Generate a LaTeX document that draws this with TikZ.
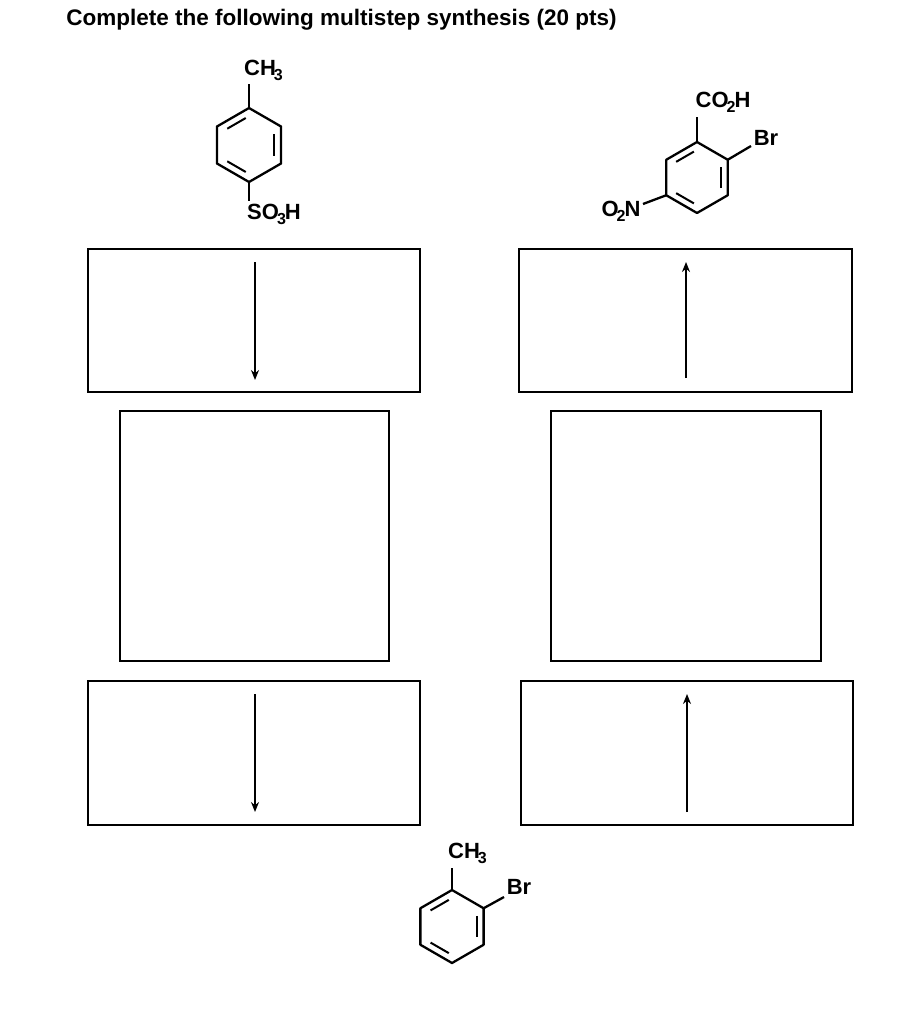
\documentclass[tikz,border=0pt]{standalone}
\usepackage{fontspec}
\setmainfont{Liberation Sans}
\usetikzlibrary{calc,arrows.meta}
\newcommand\sbs[1]{\kern-2pt\raisebox{-5pt}{\fontsize{16}{16}\selectfont #1}\kern-1pt}
\newcommand\benzring[2]{% name, radius (pt)
  \draw[line join=round] (270:#2)--(210:#2)--(150:#2)--(90:#2)--(30:#2)--(330:#2)--cycle;
  \foreach \p/\q in {270/210,330/30,150/90}{
    \draw[line width=2pt] ($(\p:0.78*#2)!0.13!(\q:0.78*#2)$)--($(\q:0.78*#2)!0.13!(\p:0.78*#2)$);}
  \foreach \a/\n in {270/t,210/ul,150/ll,90/b,30/lr,330/ur}{\coordinate (#1\n) at (\a:#2);}
}
\begin{document}
\begin{tikzpicture}[x=1pt,y=-1pt,line width=2.3pt,
  box/.style={draw,line width=2pt},
  lbl/.style={font=\bfseries\fontsize{22}{22}\selectfont,inner sep=0pt},
  arr/.style={-{Stealth[length=10pt,width=8pt]},line width=2pt}]
\useasboundingbox (0,0) rectangle (918,1022);
\node[anchor=west,font=\bfseries\fontsize{22.5}{22.5}\selectfont] (title) at (62,20) {Complete the following multistep synthesis (20 pts)};
% boxes
\draw[box] (88,249) rectangle (420,392);
\draw[box] (120,411) rectangle (389,661);
\draw[box] (88,681) rectangle (420,825);
\draw[box] (519,249) rectangle (852,392);
\draw[box] (551,411) rectangle (821,661);
\draw[box] (521,681) rectangle (853,825);
% arrows
\coordinate (a1s) at (255,262); \coordinate (a1e) at (255,380);
\coordinate (a2s) at (255,694); \coordinate (a2e) at (255,812);
\coordinate (a3s) at (686,378); \coordinate (a3e) at (686,262);
\coordinate (a4s) at (687,812); \coordinate (a4e) at (687,694);
\draw[arr] (a1s)--(a1e); \draw[arr] (a2s)--(a2e);
\draw[arr] (a3s)--(a3e); \draw[arr] (a4s)--(a4e);
% molecule 1
\begin{scope}[shift={(249,145)}] \benzring{A}{37} \end{scope}
\node[lbl] (ch3a) at (263,70) {CH\sbs{3}};
\node[lbl] (so3h) at (274,214) {SO\sbs{3}H};
\draw (At)--(249,84); \draw (Ab)--(249,201);
% molecule 2
\begin{scope}[shift={(697,177.5)}] \benzring{B}{35.5} \end{scope}
\node[lbl] (co2h) at (723,102) {CO\sbs{2}H};
\node[lbl] (bra) at (766,138) {Br};
\node[lbl] (o2n) at (621,211) {O\sbs{2}N};
\draw (Bt)--(697,117); \draw (Bur)--(751,146); \draw (Bll)--(643,204);
% molecule 3
\begin{scope}[shift={(452,926.5)}] \benzring{C}{36.5} \end{scope}
\node[lbl] (ch3c) at (467,853) {CH\sbs{3}};
\node[lbl] (brc) at (519,887) {Br};
\draw (Ct)--(452,868); \draw (Cur)--(504,897);
\end{tikzpicture}
\end{document}
